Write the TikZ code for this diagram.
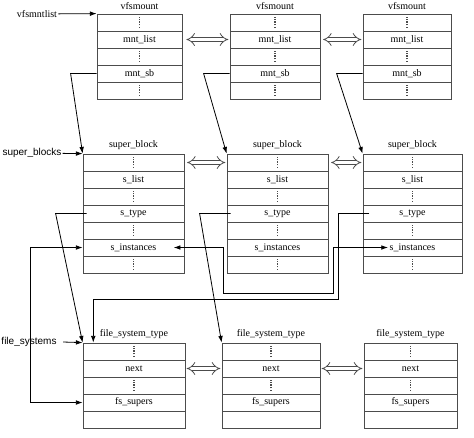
\documentclass[tikz,border=0pt]{standalone}
\usepackage{fontspec}
\setmainfont{Liberation Serif}
\setsansfont{Liberation Sans}
\usetikzlibrary{positioning,arrows.meta}

\begin{document}
\begin{tikzpicture}[x=0.75pt,y=0.75pt,yscale=-1,xscale=1,
    cell/.style={draw=black!70, line width=0.6pt, minimum height=17*0.75pt, inner sep=0pt, font=\fontsize{7.5}{8}\selectfont},
    dotcell/.style={cell, path picture={\draw[line width=0.8pt, dash pattern=on 1pt off 0.9pt] ([yshift=-4pt]path picture bounding box.center) -- ([yshift=3.8pt]path picture bounding box.center);}},
    title/.style={inner sep=0.75pt, font=\fontsize{7.5}{8}\selectfont},
    side/.style={inner sep=0.75pt, font=\sffamily\fontsize{7.5}{8}\selectfont},
    ptr/.style={line width=0.6pt, -{Latex[length=5pt,width=3.5pt]}},
    ptrs/.style={line width=0.6pt, {Latex[length=5pt,width=3.5pt]}-{Latex[length=5pt,width=3.5pt]}},
    link/.style={draw=black!70, line width=0.6pt, double=white, double distance=2.8pt, {Implies[length=4.5pt,width=8pt]}-{Implies[length=4.5pt,width=8pt]}}]
  \path[use as bounding box] (0,0) rectangle (474,437); %diagram is 474 x 437

  % vfsmount
  \foreach \n/\l/\r in {1/97/182,2/230/320,3/363/451}{
    \foreach \s/\t [count=\i] in {dotcell/{},cell/mnt\_list,dotcell/{},cell/mnt\_sb,dotcell/{}}
      \node[\s, minimum width={(\r-\l)*0.75pt}] (vm\n-\i) at ({(\l+\r)/2},{14+17*\i-8.5}) {\t};
    \node[title, above=2pt of vm\n-1] (vmt\n) {vfsmount};
  }
  % super_block
  \foreach \n/\l/\r in {1/83/184,2/227/328,3/363/462}{
    \foreach \s/\t [count=\i] in {dotcell/{},cell/s\_list,dotcell/{},cell/s\_type,dotcell/{},cell/s\_instances,dotcell/{}}
      \node[\s, minimum width={(\r-\l)*0.75pt}] (sb\n-\i) at ({(\l+\r)/2},{154+17*\i-8.5}) {\t};
    \node[title, above=2pt of sb\n-1] (sbt\n) {super\_block};
  }
  % file_system_type
  \foreach \n/\l/\r in {1/83/185,2/222/320,3/364/457}{
    \foreach \s/\t [count=\i] in {dotcell/{},cell/next,dotcell/{},cell/fs\_supers,cell/{}}
      \node[\s, minimum width={(\r-\l)*0.75pt}] (fst\n-\i) at ({(\l+\r)/2},{343+17*\i-8.5}) {\t};
    \node[title, above=2pt of fst\n-1] (fstt\n) {file\_system\_type};
  }

  % list heads
  \node[title] (vfsmntlist) at (37,14) {vfsmntlist};
  \node[side] (superblocks) at (32,153) {super\_blocks};
  \node[side] (filesystems) at (29,342) {file\_systems};
  \draw[ptr] (vfsmntlist) -- (vm1-1.north west);
  \draw[ptr] (superblocks) -- (sb1-1.north west);
  \draw[ptr] ([xshift=4pt]filesystems.east) -- (fst1-1.north west);

  % double links
  \draw[link] ([xshift=3pt]vm1-2.east) -- ([xshift=-1pt]vm2-2.west);
  \draw[link] ([xshift=2pt]vm2-2.east) -- ([xshift=-1pt]vm3-2.west);
  \draw[link] ([xshift=2pt]sb1-1.east) -- ([xshift=-1pt]sb2-1.west);
  \draw[link] ([xshift=2pt]sb2-1.east) -- ([xshift=-1pt]sb3-1.west);
  \draw[link] ([xshift=1pt]fst1-2.east) -- ([xshift=-1pt]fst2-2.west);
  \draw[link] ([xshift=1pt]fst2-2.east) -- ([xshift=-1pt]fst3-2.west);

  % mnt_sb
  \foreach \n in {1,2,3}
    \draw[ptr] (vm\n-4.west) -- ++(-26,0) -- (sb\n-1.north west);

  % s_type
  \foreach \n in {1,2}
    \draw[ptr] ([xshift=3pt]sb\n-4.west) -- ++(-31,0) -- (fst\n-1.north west);
  \draw[ptr] ([xshift=5pt]sb3-4.west) -- ++(-31,0) -- ++(0,86) -| ([xshift=8pt]fst1-1.north west);

  % s_instances / fs_supers
  \draw[ptrs] ([xshift=-8pt]sb1-6.east) -- ++(50,0) -- ++(0,46) -- ++(110,0) |- ([xshift=19pt]sb3-6.west);
  \draw[ptrs] (sb1-6.west) -- ++(-52,0) |- (fst1-4.west);
\end{tikzpicture}
\end{document}
